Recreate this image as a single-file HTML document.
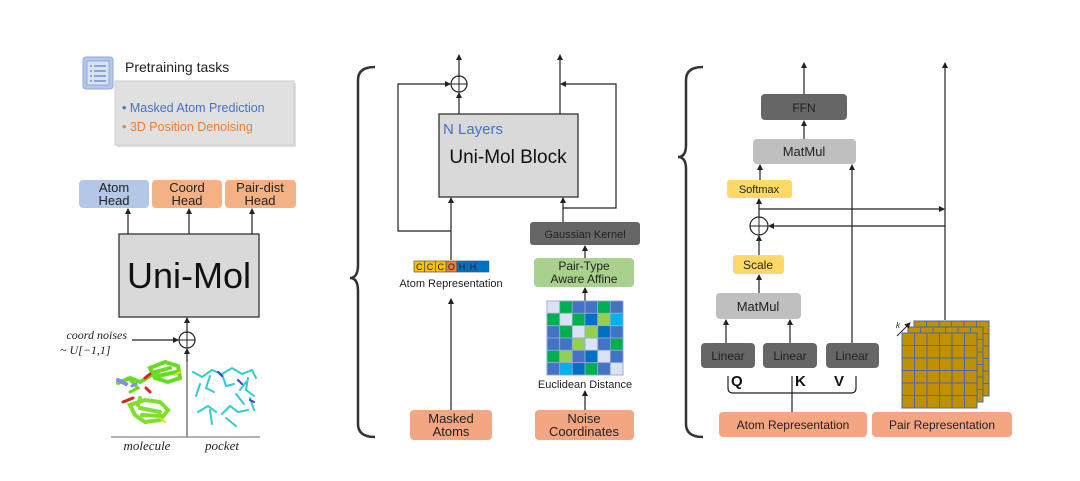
<!DOCTYPE html>
<html><head><meta charset="utf-8"><style>
html,body{margin:0;padding:0;background:#fff;}
svg{display:block;font-family:"Liberation Sans",sans-serif;}
</style></head><body>
<svg width="1080" height="481" viewBox="0 0 1080 481" xmlns="http://www.w3.org/2000/svg">
<defs>
<marker id="a" markerWidth="6" markerHeight="6" refX="5" refY="3" orient="auto" markerUnits="userSpaceOnUse"><path d="M0,0 L6,3 L0,6 z" fill="#222"/></marker>
</defs>
<rect width="1080" height="481" fill="#fff"/>
<!-- icon -->
<rect x="83" y="57" width="30" height="32" rx="3" fill="#b4c7e7" stroke="#8faadc"/>
<rect x="87" y="61" width="22" height="24" fill="#dae3f3" stroke="#7f9fd0" stroke-width="0.8"/>
<g stroke="#6f8fc8" stroke-width="1.5"><line x1="90" y1="66" x2="92" y2="66"/><line x1="94" y1="66" x2="106" y2="66"/><line x1="90" y1="71" x2="92" y2="71"/><line x1="94" y1="71" x2="106" y2="71"/><line x1="90" y1="76" x2="92" y2="76"/><line x1="94" y1="76" x2="106" y2="76"/><line x1="90" y1="81" x2="92" y2="81"/><line x1="94" y1="81" x2="106" y2="81"/></g>
<text x="125" y="72" font-size="14" fill="#222">Pretraining tasks</text>
<rect x="117" y="83" width="179" height="64" fill="#ccc" opacity="0.6"/>
<rect x="115" y="81" width="179" height="64" fill="#e0e0e0" stroke="#ccc"/>
<text x="122" y="112" font-size="12.5" fill="#4472c4">• Masked Atom Prediction</text>
<text x="122" y="131" font-size="12.5" fill="#ed7d31">• 3D Position Denoising</text>
<rect x="79" y="180" width="70" height="28" rx="4" fill="#b4c7e7"/>
<rect x="152" y="180" width="70" height="28" rx="4" fill="#f4b183"/>
<rect x="225" y="180" width="71" height="28" rx="4" fill="#f4b183"/>
<g font-size="13" fill="#222" text-anchor="middle">
<text x="114" y="192">Atom</text><text x="114" y="205">Head</text>
<text x="187" y="192">Coord</text><text x="187" y="205">Head</text>
<text x="260" y="192">Pair-dist</text><text x="260" y="205">Head</text>
</g>
<rect x="119" y="234" width="140" height="83" fill="#d9d9d9" stroke="#333" stroke-width="1.3"/>
<text x="189" y="288" font-size="36" text-anchor="middle" fill="#111">Uni-Mol</text>
<g stroke="#222" stroke-width="1.2" fill="none" marker-end="url(#a)">
<line x1="128" y1="234" x2="128" y2="209"/><line x1="189" y1="234" x2="189" y2="209"/><line x1="252" y1="234" x2="252" y2="209"/>
<line x1="187" y1="332" x2="187" y2="318"/>
<line x1="132" y1="340" x2="178" y2="340"/>
<line x1="187" y1="362" x2="187" y2="349"/>
</g>
<circle cx="187" cy="340" r="8" fill="#fff" stroke="#222" stroke-width="1.2"/>
<line x1="179" y1="340" x2="195" y2="340" stroke="#222"/><line x1="187" y1="332" x2="187" y2="348" stroke="#222"/>
<text x="127" y="339" font-size="12" font-style="italic" font-family="Liberation Serif,serif" text-anchor="end" fill="#222">coord noises</text>
<text x="60" y="354" font-size="12" font-style="italic" font-family="Liberation Serif,serif" fill="#222">~ U[−1,1]</text>
<!-- molecule image -->
<g fill="none" stroke-linecap="round">
<path d="M150 368 L165 362 L178 366 L180 378 L168 382 L155 378 Z M155 372 L170 368 M158 376 L176 372" stroke="#66dd22" stroke-width="4"/>
<path d="M118 383 L130 378 L140 382 L150 376 L158 372" stroke="#66dd22" stroke-width="4"/>
<path d="M128 378 L138 388 L130 392" stroke="#66dd22" stroke-width="3"/>
<path d="M140 398 L138 405 M130 405 L145 400 L160 402 L168 410 L160 420 L145 422 L135 415 Z M140 408 L160 412 M142 415 L162 416" stroke="#7ee02a" stroke-width="4"/>
<path d="M118 380 L126 384" stroke="#8888ee" stroke-width="4"/><path d="M145 378 L150 374 M146 388 L150 392" stroke="#dd2222" stroke-width="3"/><path d="M123 402 L133 398" stroke="#dd2222" stroke-width="3"/>
<path d="M132 386 L136 384" stroke="#8888ee" stroke-width="3"/>
<path d="M175 375 L180 372 M160 418 L165 422" stroke="#dddd22" stroke-width="2"/>
<path d="M193 372 L202 377 L212 370 L222 374 L232 368 L242 374 L252 370 L256 378 M210 376 L206 388 L214 392 M222 374 L226 386 L234 384 M248 378 L246 390 L254 396 M200 384 L196 396 M236 394 L244 404 M250 398 L254 410 M198 412 L208 406 L216 412 M222 414 L230 406 L238 412 L248 410 M210 410 L212 424 M226 418 L236 426 M240 390 L246 382" stroke="#33cccc" stroke-width="2"/>
<path d="M218 372 L222 376 M238 380 L242 384 M250 400 L254 402" stroke="#3344cc" stroke-width="2"/>
</g>
<line x1="111" y1="437" x2="260" y2="437" stroke="#999" stroke-width="1.5"/>
<line x1="187" y1="362" x2="187" y2="437" stroke="#999" stroke-width="2"/>
<text x="147" y="450" font-size="13" font-style="italic" font-family="Liberation Serif,serif" text-anchor="middle" fill="#222">molecule</text>
<text x="222" y="450" font-size="13" font-style="italic" font-family="Liberation Serif,serif" text-anchor="middle" fill="#222">pocket</text>

<!-- MIDDLE PANEL -->
<path d="M375 67 Q358 67 358 80 L358 265 Q358 278 350 278 Q358 278 358 291 L358 424 Q358 437 375 437" stroke="#333" stroke-width="2.5" fill="none"/>
<rect x="439" y="114" width="139" height="83" fill="#d9d9d9" stroke="#333" stroke-width="1.3"/>
<text x="443" y="134" font-size="15" fill="#4472c4">N Layers</text>
<text x="508" y="163" font-size="19" text-anchor="middle" fill="#111">Uni-Mol Block</text>
<g stroke="#222" stroke-width="1.2" fill="none">
<line x1="459" y1="76" x2="459" y2="55" marker-end="url(#a)"/>
<line x1="459" y1="114" x2="459" y2="93" marker-end="url(#a)"/>
<polyline points="451,231 398,231 398,84 450,84" marker-end="url(#a)"/>
<line x1="451" y1="260" x2="451" y2="198" marker-end="url(#a)"/>
<line x1="451" y1="410" x2="451" y2="299" marker-end="url(#a)"/>
<line x1="560" y1="114" x2="560" y2="55" marker-end="url(#a)"/>
<line x1="563" y1="222" x2="563" y2="198" marker-end="url(#a)"/>
<polyline points="563,208 616,208 616,84 561,84" marker-end="url(#a)"/>
<line x1="585" y1="258" x2="585" y2="246" marker-end="url(#a)"/>
<line x1="585" y1="301" x2="585" y2="288" marker-end="url(#a)"/>
<line x1="585" y1="410" x2="585" y2="391" marker-end="url(#a)"/>
</g>
<circle cx="459" cy="84" r="8" fill="#fff" stroke="#222" stroke-width="1.2"/>
<line x1="451" y1="84" x2="467" y2="84" stroke="#222"/><line x1="459" y1="76" x2="459" y2="92" stroke="#222"/>
<g stroke="#555" stroke-width="0.7">
<rect x="414" y="261" width="10.7" height="11" fill="#ffc000"/><rect x="424.7" y="261" width="10.7" height="11" fill="#ffc000"/><rect x="435.4" y="261" width="10.7" height="11" fill="#ffc000"/><rect x="446.1" y="261" width="10.7" height="11" fill="#ed7d31"/><rect x="456.8" y="261" width="10.7" height="11" fill="#0070c0"/><rect x="467.5" y="261" width="10.7" height="11" fill="#0070c0"/><rect x="478.2" y="261" width="10.7" height="11" fill="#0070c0" stroke="#0070c0"/>
</g>
<g font-size="9" text-anchor="middle" fill="#222"><text x="419.3" y="270">C</text><text x="430" y="270">C</text><text x="440.7" y="270">C</text><text x="451.4" y="270">O</text><text x="462" y="270">H</text><text x="473" y="270">H</text></g>
<text x="451" y="287" font-size="11" text-anchor="middle" fill="#222">Atom Representation</text>
<rect x="530" y="222" width="110" height="23" rx="3" fill="#666"/>
<text x="585" y="238" font-size="11" text-anchor="middle" fill="#222">Gaussian Kernel</text>
<rect x="534" y="258" width="100" height="29" rx="4" fill="#a9d18e"/>
<text x="584" y="270" font-size="12" text-anchor="middle" fill="#222">Pair-Type</text>
<text x="584" y="283" font-size="12" text-anchor="middle" fill="#222">Aware Affine</text>
<g stroke="#8faadc" stroke-width="0.8">
<rect x="547" y="301" width="76" height="74" fill="#4472c4"/>
<rect x="547.0" y="301.0" width="12.7" height="12.3" fill="#dae3f3"/><rect x="559.7" y="301.0" width="12.7" height="12.3" fill="#00b050"/><rect x="572.3" y="301.0" width="12.7" height="12.3" fill="#4472c4"/><rect x="585.0" y="301.0" width="12.7" height="12.3" fill="#4472c4"/><rect x="597.7" y="301.0" width="12.7" height="12.3" fill="#00b050"/><rect x="610.3" y="301.0" width="12.7" height="12.3" fill="#4472c4"/>
<rect x="547.0" y="313.3" width="12.7" height="12.3" fill="#00b050"/><rect x="559.7" y="313.3" width="12.7" height="12.3" fill="#dae3f3"/><rect x="572.3" y="313.3" width="12.7" height="12.3" fill="#00b050"/><rect x="585.0" y="313.3" width="12.7" height="12.3" fill="#0070c0"/><rect x="597.7" y="313.3" width="12.7" height="12.3" fill="#92d050"/><rect x="610.3" y="313.3" width="12.7" height="12.3" fill="#00b0f0"/>
<rect x="547.0" y="325.7" width="12.7" height="12.3" fill="#4472c4"/><rect x="559.7" y="325.7" width="12.7" height="12.3" fill="#00b050"/><rect x="572.3" y="325.7" width="12.7" height="12.3" fill="#dae3f3"/><rect x="585.0" y="325.7" width="12.7" height="12.3" fill="#92d050"/><rect x="597.7" y="325.7" width="12.7" height="12.3" fill="#0070c0"/><rect x="610.3" y="325.7" width="12.7" height="12.3" fill="#4472c4"/>
<rect x="547.0" y="338.0" width="12.7" height="12.3" fill="#4472c4"/><rect x="559.7" y="338.0" width="12.7" height="12.3" fill="#4472c4"/><rect x="572.3" y="338.0" width="12.7" height="12.3" fill="#92d050"/><rect x="585.0" y="338.0" width="12.7" height="12.3" fill="#dae3f3"/><rect x="597.7" y="338.0" width="12.7" height="12.3" fill="#4472c4"/><rect x="610.3" y="338.0" width="12.7" height="12.3" fill="#00b050"/>
<rect x="547.0" y="350.3" width="12.7" height="12.3" fill="#00b050"/><rect x="559.7" y="350.3" width="12.7" height="12.3" fill="#92d050"/><rect x="572.3" y="350.3" width="12.7" height="12.3" fill="#4472c4"/><rect x="585.0" y="350.3" width="12.7" height="12.3" fill="#0070c0"/><rect x="597.7" y="350.3" width="12.7" height="12.3" fill="#dae3f3"/><rect x="610.3" y="350.3" width="12.7" height="12.3" fill="#4472c4"/>
<rect x="547.0" y="362.7" width="12.7" height="12.3" fill="#4472c4"/><rect x="559.7" y="362.7" width="12.7" height="12.3" fill="#00b0f0"/><rect x="572.3" y="362.7" width="12.7" height="12.3" fill="#0070c0"/><rect x="585.0" y="362.7" width="12.7" height="12.3" fill="#00b050"/><rect x="597.7" y="362.7" width="12.7" height="12.3" fill="#4472c4"/><rect x="610.3" y="362.7" width="12.7" height="12.3" fill="#dae3f3"/>
</g>
<text x="585" y="388" font-size="11" text-anchor="middle" fill="#222">Euclidean Distance</text>
<rect x="410" y="410" width="82" height="30" rx="4" fill="#f4a582"/>
<text x="451" y="423" font-size="13" text-anchor="middle" fill="#222">Masked</text><text x="451" y="436" font-size="13" text-anchor="middle" fill="#222">Atoms</text>
<rect x="535" y="410" width="99" height="30" rx="4" fill="#f4a582"/>
<text x="584" y="423" font-size="13" text-anchor="middle" fill="#222">Noise</text><text x="584" y="436" font-size="13" text-anchor="middle" fill="#222">Coordinates</text>

<!-- RIGHT PANEL -->
<path d="M703 67 Q686 67 686 80 L686 145 Q686 157 678 157 Q686 157 686 169 L686 424 Q686 437 703 437" stroke="#333" stroke-width="2.5" fill="none"/>
<rect x="761" y="94" width="86" height="26" rx="4" fill="#666"/>
<text x="804" y="112" font-size="12" text-anchor="middle" fill="#222">FFN</text>
<rect x="753" y="139" width="103" height="25" rx="4" fill="#bfbfbf"/>
<text x="804" y="156" font-size="13" text-anchor="middle" fill="#222">MatMul</text>
<rect x="727" y="180" width="65" height="18" rx="3" fill="#ffd966"/>
<text x="759" y="193" font-size="11" text-anchor="middle" fill="#222">Softmax</text>
<rect x="733" y="255" width="51" height="19" rx="3" fill="#ffd966"/>
<text x="758" y="269" font-size="12" text-anchor="middle" fill="#222">Scale</text>
<rect x="716" y="293" width="85" height="26" rx="4" fill="#bfbfbf"/>
<text x="758" y="311" font-size="13" text-anchor="middle" fill="#222">MatMul</text>
<rect x="701" y="343" width="54" height="25" rx="4" fill="#666"/><text x="728" y="360" font-size="12" text-anchor="middle" fill="#222">Linear</text>
<rect x="763" y="343" width="54" height="25" rx="4" fill="#666"/><text x="790" y="360" font-size="12" text-anchor="middle" fill="#222">Linear</text>
<rect x="826" y="343" width="53" height="25" rx="4" fill="#666"/><text x="852" y="360" font-size="12" text-anchor="middle" fill="#222">Linear</text>
<g stroke="#222" stroke-width="1.2" fill="none">
<line x1="804" y1="94" x2="804" y2="63" marker-end="url(#a)"/>
<line x1="804" y1="139" x2="804" y2="121" marker-end="url(#a)"/>
<line x1="760" y1="180" x2="760" y2="165" marker-end="url(#a)"/>
<line x1="852" y1="343" x2="852" y2="165" marker-end="url(#a)"/>
<line x1="759" y1="217" x2="759" y2="199" marker-end="url(#a)"/>
<line x1="759" y1="209" x2="944" y2="209" marker-end="url(#a)"/>
<line x1="945" y1="226" x2="769" y2="226" marker-end="url(#a)"/>
<line x1="945" y1="320" x2="945" y2="63" marker-end="url(#a)"/>
<line x1="759" y1="255" x2="759" y2="236" marker-end="url(#a)"/>
<line x1="759" y1="293" x2="759" y2="275" marker-end="url(#a)"/>
<line x1="726" y1="343" x2="726" y2="320" marker-end="url(#a)"/>
<line x1="790" y1="343" x2="790" y2="320" marker-end="url(#a)"/>
<path d="M728 376 L728 388 Q728 393 733 393 L851 393 Q856 393 856 388 L856 376"/>
<line x1="792" y1="376" x2="792" y2="412"/>
</g>
<circle cx="759" cy="226" r="9" fill="#fff" stroke="#222" stroke-width="1.2"/>
<line x1="750" y1="226" x2="768" y2="226" stroke="#222"/><line x1="759" y1="217" x2="759" y2="235" stroke="#222"/>
<g font-size="15" font-weight="bold" fill="#111"><text x="731" y="386">Q</text><text x="795" y="386">K</text><text x="834" y="386">V</text></g>
<rect x="719" y="412" width="148" height="25" rx="4" fill="#f4a582"/>
<text x="793" y="429" font-size="12" text-anchor="middle" fill="#222">Atom Representation</text>
<rect x="872" y="412" width="140" height="25" rx="4" fill="#f4a582"/>
<text x="942" y="429" font-size="12" text-anchor="middle" fill="#222">Pair Representation</text>
<g stroke="#4a6aa8" stroke-width="1">
<g transform="translate(12,-12)"><rect x="902" y="333" width="75" height="75" fill="#bf9000"/><path d="M914.5 333V408M927 333V408M939.5 333V408M952 333V408M964.5 333V408M902 345.5H977M902 358H977M902 370.5H977M902 383H977M902 395.5H977" fill="none"/></g>
<g transform="translate(6,-6)"><rect x="902" y="333" width="75" height="75" fill="#bf9000"/><path d="M914.5 333V408M927 333V408M939.5 333V408M952 333V408M964.5 333V408M902 345.5H977M902 358H977M902 370.5H977M902 383H977M902 395.5H977" fill="none"/></g>
<rect x="902" y="333" width="75" height="75" fill="#bf9000"/><path d="M914.5 333V408M927 333V408M939.5 333V408M952 333V408M964.5 333V408M902 345.5H977M902 358H977M902 370.5H977M902 383H977M902 395.5H977" fill="none"/>
</g>
<line x1="897" y1="336" x2="910" y2="323" stroke="#222" stroke-width="1" marker-end="url(#a)"/>
<text x="896" y="328" font-size="8" font-style="italic" fill="#222">k</text>
</svg>
</body></html>
